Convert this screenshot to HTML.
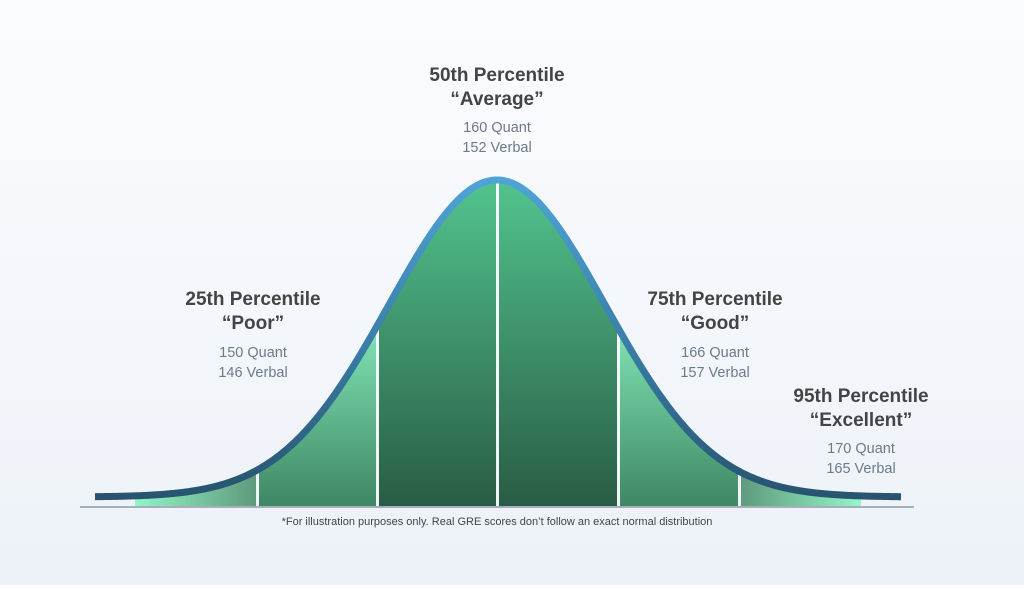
<!DOCTYPE html>
<html><head><meta charset="utf-8"><style>
html,body{margin:0;padding:0;}
body{width:1024px;height:585px;overflow:hidden;background:linear-gradient(#fbfcfe,#edf2f8);font-family:"Liberation Sans",sans-serif;}
</style></head><body>
<svg id="s" width="1024" height="585" xmlns="http://www.w3.org/2000/svg">
<defs>
<linearGradient id="gc" x1="0" y1="180" x2="0" y2="506" gradientUnits="userSpaceOnUse"><stop offset="0" stop-color="#52c48e"/><stop offset="1" stop-color="#295c44"/></linearGradient>
<linearGradient id="gs" x1="0" y1="320" x2="0" y2="506" gradientUnits="userSpaceOnUse"><stop offset="0" stop-color="#84e8b8"/><stop offset="1" stop-color="#3e8864"/></linearGradient>
<linearGradient id="gl" x1="135" y1="0" x2="256" y2="0" gradientUnits="userSpaceOnUse"><stop offset="0" stop-color="#93f5c6"/><stop offset="1" stop-color="#5f9a7d"/></linearGradient>
<linearGradient id="gr" x1="860" y1="0" x2="740" y2="0" gradientUnits="userSpaceOnUse"><stop offset="0" stop-color="#93f5c6"/><stop offset="1" stop-color="#5f9a7d"/></linearGradient>
<linearGradient id="gk" x1="0" y1="180" x2="0" y2="500" gradientUnits="userSpaceOnUse"><stop offset="0" stop-color="#4fa3d8"/><stop offset="0.5" stop-color="#3a7fa8"/><stop offset="1" stop-color="#27536e"/></linearGradient>
<clipPath id="cp"><path id="area"/></clipPath>
</defs>
<g clip-path="url(#cp)">
<rect x="135" y="150" width="121" height="356" fill="url(#gl)"/>
<rect x="259" y="150" width="117" height="356" fill="url(#gs)"/>
<rect x="379" y="150" width="117" height="356" fill="url(#gc)"/>
<rect x="499" y="150" width="118" height="356" fill="url(#gc)"/>
<rect x="620" y="150" width="118" height="356" fill="url(#gs)"/>
<rect x="741" y="150" width="120" height="356" fill="url(#gr)"/>
</g>
<line x1="80" y1="507" x2="914" y2="507" stroke="#8d99a8" stroke-width="1.5"/>
<path id="curve" fill="none" stroke="url(#gk)" stroke-width="7" stroke-linecap="butt"/>
<g font-family="Liberation Sans, sans-serif" text-anchor="middle">
<text x="497" y="81" font-size="19" font-weight="bold" fill="#444">50th Percentile</text>
<text x="497" y="105" font-size="19" font-weight="bold" fill="#444">“Average”</text>
<text x="497" y="132" font-size="14.5" fill="#6d7a8b">160 Quant</text>
<text x="497" y="152" font-size="14.5" fill="#6d7a8b">152 Verbal</text>
<text x="253" y="305" font-size="19" font-weight="bold" fill="#444">25th Percentile</text>
<text x="253" y="329" font-size="19" font-weight="bold" fill="#444">“Poor”</text>
<text x="253" y="357" font-size="14.5" fill="#6d7a8b">150 Quant</text>
<text x="253" y="377" font-size="14.5" fill="#6d7a8b">146 Verbal</text>
<text x="715" y="305" font-size="19" font-weight="bold" fill="#444">75th Percentile</text>
<text x="715" y="329" font-size="19" font-weight="bold" fill="#444">“Good”</text>
<text x="715" y="357" font-size="14.5" fill="#6d7a8b">166 Quant</text>
<text x="715" y="377" font-size="14.5" fill="#6d7a8b">157 Verbal</text>
<text x="861" y="402" font-size="19" font-weight="bold" fill="#444">95th Percentile</text>
<text x="861" y="426" font-size="19" font-weight="bold" fill="#444">“Excellent”</text>
<text x="861" y="453" font-size="14.5" fill="#6d7a8b">170 Quant</text>
<text x="861" y="473" font-size="14.5" fill="#6d7a8b">165 Verbal</text>
<text x="497" y="525" font-size="11" fill="#444">*For illustration purposes only. Real GRE scores don’t follow an exact normal distribution</text>
</g>
</svg>
<script>
var pts=[];
for(var x=95;x<=901;x+=2){var d=x-497;var y=497-317*Math.exp(-d*d/(2*108*108));pts.push(x+","+y.toFixed(2));}
var line="M"+pts.join(" L");
document.getElementById("curve").setAttribute("d",line);
document.getElementById("area").setAttribute("d",line+" L901,506 L95,506 Z");
</script>
</body></html>
